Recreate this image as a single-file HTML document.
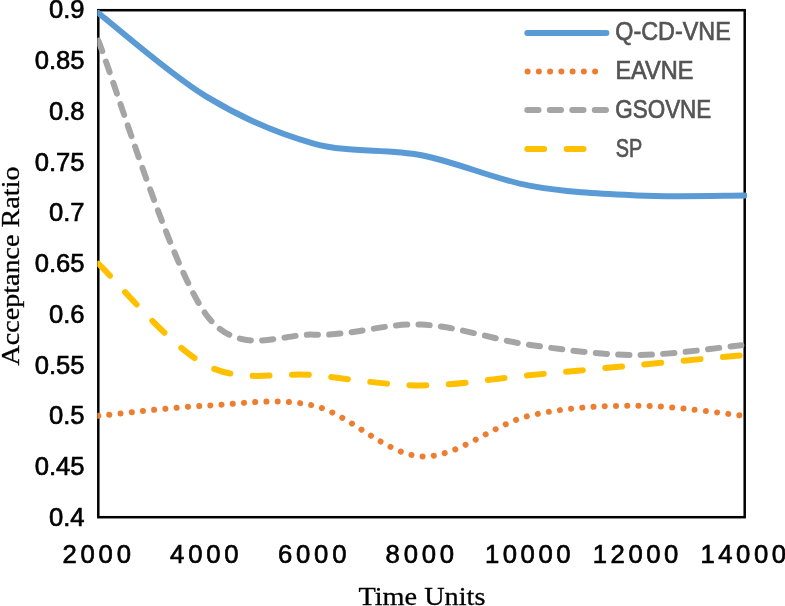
<!DOCTYPE html>
<html><head><meta charset="utf-8"><title>Acceptance Ratio</title>
<style>
html,body{margin:0;padding:0;background:#fff;}
body{width:785px;height:606px;overflow:hidden;}
svg{display:block;}
.sans{font-family:"Liberation Sans",sans-serif;}
.serif{font-family:"Liberation Serif",serif;}
</style></head><body>
<svg width="785" height="606" viewBox="0 0 785 606">
<rect width="785" height="606" fill="#fff"/>
<defs><clipPath id="plot"><rect x="97.3" y="9.399999999999999" width="649.7" height="508.6000000000001"/></clipPath></defs>
<rect x="98.3" y="10.2" width="646.4000000000001" height="507.00000000000006" fill="none" stroke="#000" stroke-width="2.5"/>
<g clip-path="url(#plot)" fill="none" stroke-linecap="round" stroke-linejoin="round" stroke-width="6.0">
<path d="M98.30 263.70 C116.26 280.60 170.12 346.51 206.03 365.10 C241.94 383.69 277.86 371.86 313.77 375.24 C349.68 378.62 385.59 385.38 421.50 385.38 C457.41 385.38 493.32 378.62 529.23 375.24 C565.14 371.86 601.06 368.48 636.97 365.10 C672.88 361.72 726.74 356.65 744.70 354.96" stroke="#ffc000" stroke-dasharray="16.86 22.48"/>
<path d="M98.30 40.62 C116.26 86.25 170.12 265.39 206.03 314.40 C238.43 358.61 281.37 333.16 313.77 334.68 C349.68 336.37 385.59 322.85 421.50 324.54 C457.41 326.23 493.32 339.75 529.23 344.82 C565.14 349.89 601.06 354.96 636.97 354.96 C672.88 354.96 726.74 346.51 744.70 344.82" stroke="#a5a5a5" stroke-dasharray="11.24 11.24"/>
<path d="M98.30 415.80 C116.26 414.11 170.12 407.35 206.03 405.66 C241.94 403.97 277.86 397.21 313.77 405.66 C349.68 414.11 385.59 454.67 421.50 456.36 C457.41 458.05 493.32 424.25 529.23 415.80 C565.14 407.35 601.06 405.66 636.97 405.66 C672.88 405.66 726.74 414.11 744.70 415.80" stroke="#ed7d31" stroke-dasharray="0.01 11.24"/>
<path d="M98.30 13.04 C116.26 26.93 170.12 74.64 206.03 96.39 C241.94 118.14 277.86 133.74 313.77 143.54 C349.68 153.34 385.59 148.19 421.50 155.20 C457.41 162.22 493.32 178.91 529.23 185.62 C565.14 192.33 601.06 193.80 636.97 195.46 C672.88 197.11 726.74 195.54 744.70 195.56" stroke="#5b9bd5"/>
</g>
<g class="sans" font-size="25.6" fill="#000" stroke="#000" stroke-width="0.65">
<text x="84.6" y="18.2" text-anchor="end">0.9</text>
<text x="84.6" y="69.0" text-anchor="end">0.85</text>
<text x="84.6" y="119.8" text-anchor="end">0.8</text>
<text x="84.6" y="170.5" text-anchor="end">0.75</text>
<text x="84.6" y="221.3" text-anchor="end">0.7</text>
<text x="84.6" y="272.1" text-anchor="end">0.65</text>
<text x="84.6" y="322.9" text-anchor="end">0.6</text>
<text x="84.6" y="373.7" text-anchor="end">0.55</text>
<text x="84.6" y="424.4" text-anchor="end">0.5</text>
<text x="84.6" y="475.2" text-anchor="end">0.45</text>
<text x="84.6" y="526.0" text-anchor="end">0.4</text>
</g>
<g class="sans" font-size="25.7" fill="#000" stroke="#000" stroke-width="0.65">
<text x="98.6" y="562.5" text-anchor="middle" letter-spacing="3.8">2000</text>
<text x="206.3" y="562.5" text-anchor="middle" letter-spacing="3.8">4000</text>
<text x="314.1" y="562.5" text-anchor="middle" letter-spacing="3.8">6000</text>
<text x="421.8" y="562.5" text-anchor="middle" letter-spacing="3.8">8000</text>
<text x="529.5" y="562.5" text-anchor="middle" letter-spacing="3.5">10000</text>
<text x="637.3" y="562.5" text-anchor="middle" letter-spacing="3.5">12000</text>
<text x="745.0" y="562.5" text-anchor="middle" letter-spacing="3.5">14000</text>
</g>
<g class="sans" font-size="25.5" fill="#545454" stroke="#545454" stroke-width="0.7">
<text x="615.3" y="40.4" textLength="115.5" lengthAdjust="spacingAndGlyphs">Q-CD-VNE</text>
<text x="615.4" y="79" textLength="78" lengthAdjust="spacingAndGlyphs">EAVNE</text>
<text x="615.3" y="117.8" textLength="96" lengthAdjust="spacingAndGlyphs">GSOVNE</text>
<text x="615.8" y="157.2" textLength="26.5" lengthAdjust="spacingAndGlyphs">SP</text>
</g>
<g fill="none" stroke-linecap="round" stroke-width="6.0">
<path d="M527.3 32.9H606.4" stroke="#5b9bd5"/>
<path d="M527.6 71.4H600" stroke="#ed7d31" stroke-dasharray="0.01 11.24"/>
<path d="M527.3 110H606.4" stroke="#a5a5a5" stroke-dasharray="11.24 11.24"/>
<path d="M527.3 149H603" stroke="#ffc000" stroke-dasharray="16.86 22.48"/>
</g>
<g class="serif" font-size="26" fill="#000" stroke="#000" stroke-width="0.3">
<text x="358.4" y="604.7" textLength="127" lengthAdjust="spacingAndGlyphs">Time Units</text>
<text transform="translate(19.2,365.5) rotate(-90)" textLength="199" lengthAdjust="spacingAndGlyphs">Acceptance Ratio</text>
</g>
</svg>
</body></html>
